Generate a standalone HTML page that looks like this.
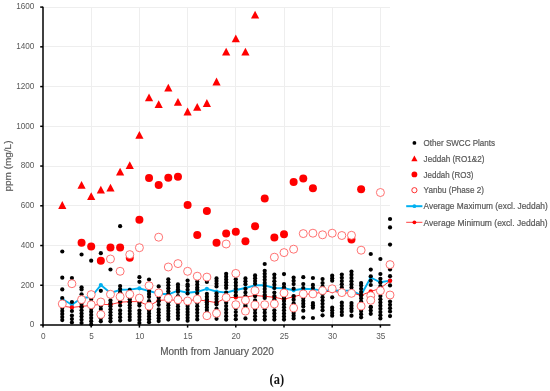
<!DOCTYPE html><html><head><meta charset="utf-8"><title>Chart</title><style>html,body{margin:0;padding:0;background:#fff;}svg{display:block;}text{font-family:"Liberation Sans",Arial,sans-serif;}</style></head><body>
<svg width="550" height="391" viewBox="0 0 550 391">
<rect width="550" height="391" fill="#fff"/>
<g stroke="#eeeeee" stroke-width="1"><line x1="43.0" y1="285.50" x2="390.0" y2="285.50"/><line x1="43.0" y1="245.50" x2="390.0" y2="245.50"/><line x1="43.0" y1="205.50" x2="390.0" y2="205.50"/><line x1="43.0" y1="166.50" x2="390.0" y2="166.50"/><line x1="43.0" y1="126.50" x2="390.0" y2="126.50"/><line x1="43.0" y1="86.50" x2="390.0" y2="86.50"/><line x1="43.0" y1="46.50" x2="390.0" y2="46.50"/><line x1="43.0" y1="7.50" x2="390.0" y2="7.50"/><line x1="91.50" y1="7.10" x2="91.50" y2="325.0"/><line x1="139.50" y1="7.10" x2="139.50" y2="325.0"/><line x1="187.50" y1="7.10" x2="187.50" y2="325.0"/><line x1="235.50" y1="7.10" x2="235.50" y2="325.0"/><line x1="284.50" y1="7.10" x2="284.50" y2="325.0"/><line x1="332.50" y1="7.10" x2="332.50" y2="325.0"/><line x1="380.50" y1="7.10" x2="380.50" y2="325.0"/></g>
<g fill="#595959" font-size="8.2"><text x="34.4" y="327.30" text-anchor="end">0</text><text x="34.4" y="287.56" text-anchor="end">200</text><text x="34.4" y="247.83" text-anchor="end">400</text><text x="34.4" y="208.09" text-anchor="end">600</text><text x="34.4" y="168.35" text-anchor="end">800</text><text x="34.4" y="128.61" text-anchor="end">1000</text><text x="34.4" y="88.88" text-anchor="end">1200</text><text x="34.4" y="49.14" text-anchor="end">1400</text><text x="34.4" y="9.40" text-anchor="end">1600</text><text x="43.30" y="339.0" text-anchor="middle">0</text><text x="91.50" y="339.0" text-anchor="middle">5</text><text x="139.70" y="339.0" text-anchor="middle">10</text><text x="187.90" y="339.0" text-anchor="middle">15</text><text x="236.10" y="339.0" text-anchor="middle">20</text><text x="284.30" y="339.0" text-anchor="middle">25</text><text x="332.50" y="339.0" text-anchor="middle">30</text><text x="380.70" y="339.0" text-anchor="middle">35</text></g>
<text transform="translate(11.2,166) rotate(-90)" text-anchor="middle" font-size="9.8" fill="#595959" stroke="#595959" stroke-width="0.2" textLength="51" lengthAdjust="spacingAndGlyphs">ppm (mg/L)</text>
<text x="160.2" y="355" font-size="10.6" fill="#595959" stroke="#595959" stroke-width="0.2" textLength="113.7" lengthAdjust="spacingAndGlyphs">Month from January 2020</text>
<text x="269.6" y="384.4" font-size="14" font-weight="bold" fill="#111" style="font-family:'Liberation Serif',serif" textLength="14.5" lengthAdjust="spacingAndGlyphs">(a)</text>
<polyline points="62.28,299.00 71.92,304.70 81.56,298.00 91.20,297.00 100.84,285.10 110.48,293.00 120.12,289.80 129.76,289.60 139.40,288.30 149.04,291.00 158.68,293.70 168.32,294.30 177.96,290.60 187.60,292.80 197.24,291.80 206.88,288.80 216.52,291.50 226.16,292.60 235.80,290.00 245.44,288.00 255.08,285.30 264.72,285.30 274.36,288.00 284.00,288.30 293.64,290.30 303.28,288.70 312.92,289.10 322.56,290.60 332.20,290.50 341.84,290.60 351.48,290.60 361.12,295.00 370.76,277.50 380.40,282.30 390.04,280.60" fill="none" stroke="#00b0f0" stroke-width="1.9" stroke-linejoin="round"/>
<g fill="#00b0f0"><circle cx="62.28" cy="299.00" r="2.1"/><circle cx="71.92" cy="304.70" r="2.1"/><circle cx="81.56" cy="298.00" r="2.1"/><circle cx="91.20" cy="297.00" r="2.1"/><circle cx="100.84" cy="285.10" r="2.1"/><circle cx="110.48" cy="293.00" r="2.1"/><circle cx="120.12" cy="289.80" r="2.1"/><circle cx="129.76" cy="289.60" r="2.1"/><circle cx="139.40" cy="288.30" r="2.1"/><circle cx="149.04" cy="291.00" r="2.1"/><circle cx="158.68" cy="293.70" r="2.1"/><circle cx="168.32" cy="294.30" r="2.1"/><circle cx="177.96" cy="290.60" r="2.1"/><circle cx="187.60" cy="292.80" r="2.1"/><circle cx="197.24" cy="291.80" r="2.1"/><circle cx="206.88" cy="288.80" r="2.1"/><circle cx="216.52" cy="291.50" r="2.1"/><circle cx="226.16" cy="292.60" r="2.1"/><circle cx="235.80" cy="290.00" r="2.1"/><circle cx="245.44" cy="288.00" r="2.1"/><circle cx="255.08" cy="285.30" r="2.1"/><circle cx="264.72" cy="285.30" r="2.1"/><circle cx="274.36" cy="288.00" r="2.1"/><circle cx="284.00" cy="288.30" r="2.1"/><circle cx="293.64" cy="290.30" r="2.1"/><circle cx="303.28" cy="288.70" r="2.1"/><circle cx="312.92" cy="289.10" r="2.1"/><circle cx="322.56" cy="290.60" r="2.1"/><circle cx="332.20" cy="290.50" r="2.1"/><circle cx="341.84" cy="290.60" r="2.1"/><circle cx="351.48" cy="290.60" r="2.1"/><circle cx="361.12" cy="295.00" r="2.1"/><circle cx="370.76" cy="277.50" r="2.1"/><circle cx="380.40" cy="282.30" r="2.1"/><circle cx="390.04" cy="280.60" r="2.1"/></g>
<polyline points="62.28,306.20 71.92,307.40 81.56,306.40 91.20,305.40 100.84,304.40 110.48,304.60 120.12,302.20 129.76,301.60 139.40,301.60 149.04,306.00 158.68,300.40 168.32,299.80 177.96,300.40 187.60,300.40 197.24,299.80 206.88,301.00 216.52,302.70 226.16,297.80 235.80,297.30 245.44,297.00 255.08,295.50 264.72,296.30 274.36,297.30 284.00,299.20 293.64,296.70 303.28,294.30 312.92,293.90 322.56,292.00 332.20,291.00 341.84,293.00 351.48,293.00 361.12,295.30 370.76,291.50 380.40,288.30 390.04,280.80" fill="none" stroke="#ff0000" stroke-width="1.0" stroke-linejoin="round" opacity="0.8"/>
<g fill="#ff0000"><circle cx="62.28" cy="306.20" r="2.2"/><circle cx="71.92" cy="307.40" r="2.2"/><circle cx="81.56" cy="306.40" r="2.2"/><circle cx="91.20" cy="305.40" r="2.2"/><circle cx="100.84" cy="304.40" r="2.2"/><circle cx="110.48" cy="304.60" r="2.2"/><circle cx="120.12" cy="302.20" r="2.2"/><circle cx="129.76" cy="301.60" r="2.2"/><circle cx="139.40" cy="301.60" r="2.2"/><circle cx="149.04" cy="306.00" r="2.2"/><circle cx="158.68" cy="300.40" r="2.2"/><circle cx="168.32" cy="299.80" r="2.2"/><circle cx="177.96" cy="300.40" r="2.2"/><circle cx="187.60" cy="300.40" r="2.2"/><circle cx="197.24" cy="299.80" r="2.2"/><circle cx="206.88" cy="301.00" r="2.2"/><circle cx="216.52" cy="302.70" r="2.2"/><circle cx="226.16" cy="297.80" r="2.2"/><circle cx="235.80" cy="297.30" r="2.2"/><circle cx="245.44" cy="297.00" r="2.2"/><circle cx="255.08" cy="295.50" r="2.2"/><circle cx="264.72" cy="296.30" r="2.2"/><circle cx="274.36" cy="297.30" r="2.2"/><circle cx="284.00" cy="299.20" r="2.2"/><circle cx="293.64" cy="296.70" r="2.2"/><circle cx="303.28" cy="294.30" r="2.2"/><circle cx="312.92" cy="293.90" r="2.2"/><circle cx="322.56" cy="292.00" r="2.2"/><circle cx="332.20" cy="291.00" r="2.2"/><circle cx="341.84" cy="293.00" r="2.2"/><circle cx="351.48" cy="293.00" r="2.2"/><circle cx="361.12" cy="295.30" r="2.2"/><circle cx="370.76" cy="291.50" r="2.2"/><circle cx="380.40" cy="288.30" r="2.2"/><circle cx="390.04" cy="280.80" r="2.2"/></g>
<g fill="#000"><circle cx="62.28" cy="251.50" r="2.1"/><circle cx="62.28" cy="277.70" r="2.1"/><circle cx="62.28" cy="289.40" r="2.1"/><circle cx="62.28" cy="298.00" r="2.1"/><circle cx="62.28" cy="307.80" r="2.1"/><circle cx="62.28" cy="310.88" r="2.1"/><circle cx="62.28" cy="313.95" r="2.1"/><circle cx="62.28" cy="317.03" r="2.1"/><circle cx="62.28" cy="320.10" r="2.1"/><circle cx="71.92" cy="278.00" r="2.1"/><circle cx="71.92" cy="302.00" r="2.1"/><circle cx="71.92" cy="311.00" r="2.1"/><circle cx="71.92" cy="315.60" r="2.1"/><circle cx="71.92" cy="319.05" r="2.1"/><circle cx="71.92" cy="322.50" r="2.1"/><circle cx="81.56" cy="254.50" r="2.1"/><circle cx="81.56" cy="287.30" r="2.1"/><circle cx="81.56" cy="289.40" r="2.1"/><circle cx="81.56" cy="294.30" r="2.1"/><circle cx="81.56" cy="297.49" r="2.1"/><circle cx="81.56" cy="300.68" r="2.1"/><circle cx="81.56" cy="303.87" r="2.1"/><circle cx="81.56" cy="307.06" r="2.1"/><circle cx="81.56" cy="310.24" r="2.1"/><circle cx="81.56" cy="313.43" r="2.1"/><circle cx="81.56" cy="316.62" r="2.1"/><circle cx="81.56" cy="319.81" r="2.1"/><circle cx="81.56" cy="323.00" r="2.1"/><circle cx="91.20" cy="260.70" r="2.1"/><circle cx="91.20" cy="299.00" r="2.1"/><circle cx="91.20" cy="302.18" r="2.1"/><circle cx="91.20" cy="305.35" r="2.1"/><circle cx="91.20" cy="308.52" r="2.1"/><circle cx="91.20" cy="311.70" r="2.1"/><circle cx="91.20" cy="314.88" r="2.1"/><circle cx="91.20" cy="318.05" r="2.1"/><circle cx="91.20" cy="321.22" r="2.1"/><circle cx="91.20" cy="324.40" r="2.1"/><circle cx="100.84" cy="253.20" r="2.1"/><circle cx="100.84" cy="290.80" r="2.1"/><circle cx="100.84" cy="306.00" r="2.1"/><circle cx="100.84" cy="309.06" r="2.1"/><circle cx="100.84" cy="312.12" r="2.1"/><circle cx="100.84" cy="315.18" r="2.1"/><circle cx="100.84" cy="318.24" r="2.1"/><circle cx="100.84" cy="321.30" r="2.1"/><circle cx="110.48" cy="269.50" r="2.1"/><circle cx="110.48" cy="300.40" r="2.1"/><circle cx="110.48" cy="303.39" r="2.1"/><circle cx="110.48" cy="306.37" r="2.1"/><circle cx="110.48" cy="309.36" r="2.1"/><circle cx="110.48" cy="312.34" r="2.1"/><circle cx="110.48" cy="315.33" r="2.1"/><circle cx="110.48" cy="318.31" r="2.1"/><circle cx="110.48" cy="321.30" r="2.1"/><circle cx="120.12" cy="226.20" r="2.1"/><circle cx="120.12" cy="286.00" r="2.1"/><circle cx="120.12" cy="289.10" r="2.1"/><circle cx="120.12" cy="292.20" r="2.1"/><circle cx="120.12" cy="301.60" r="2.1"/><circle cx="120.12" cy="305.60" r="2.1"/><circle cx="120.12" cy="310.40" r="2.1"/><circle cx="120.12" cy="313.80" r="2.1"/><circle cx="120.12" cy="317.20" r="2.1"/><circle cx="120.12" cy="320.60" r="2.1"/><circle cx="129.76" cy="290.00" r="2.1"/><circle cx="129.76" cy="299.20" r="2.1"/><circle cx="129.76" cy="302.17" r="2.1"/><circle cx="129.76" cy="305.14" r="2.1"/><circle cx="129.76" cy="308.11" r="2.1"/><circle cx="129.76" cy="311.09" r="2.1"/><circle cx="129.76" cy="314.06" r="2.1"/><circle cx="129.76" cy="317.03" r="2.1"/><circle cx="129.76" cy="320.00" r="2.1"/><circle cx="139.40" cy="277.20" r="2.1"/><circle cx="139.40" cy="281.80" r="2.1"/><circle cx="139.40" cy="303.00" r="2.1"/><circle cx="139.40" cy="305.60" r="2.1"/><circle cx="139.40" cy="310.60" r="2.1"/><circle cx="139.40" cy="313.70" r="2.1"/><circle cx="139.40" cy="316.80" r="2.1"/><circle cx="139.40" cy="319.90" r="2.1"/><circle cx="139.40" cy="323.00" r="2.1"/><circle cx="149.04" cy="279.50" r="2.1"/><circle cx="149.04" cy="301.20" r="2.1"/><circle cx="149.04" cy="291.00" r="2.1"/><circle cx="149.04" cy="293.90" r="2.1"/><circle cx="149.04" cy="296.80" r="2.1"/><circle cx="149.04" cy="310.70" r="2.1"/><circle cx="149.04" cy="313.57" r="2.1"/><circle cx="149.04" cy="316.45" r="2.1"/><circle cx="149.04" cy="319.32" r="2.1"/><circle cx="149.04" cy="322.20" r="2.1"/><circle cx="158.68" cy="286.40" r="2.1"/><circle cx="158.68" cy="297.50" r="2.1"/><circle cx="158.68" cy="301.15" r="2.1"/><circle cx="158.68" cy="304.80" r="2.1"/><circle cx="158.68" cy="309.40" r="2.1"/><circle cx="158.68" cy="312.32" r="2.1"/><circle cx="158.68" cy="315.25" r="2.1"/><circle cx="158.68" cy="318.18" r="2.1"/><circle cx="158.68" cy="321.10" r="2.1"/><circle cx="168.32" cy="279.30" r="2.1"/><circle cx="168.32" cy="282.28" r="2.1"/><circle cx="168.32" cy="285.26" r="2.1"/><circle cx="168.32" cy="288.24" r="2.1"/><circle cx="168.32" cy="291.22" r="2.1"/><circle cx="168.32" cy="294.20" r="2.1"/><circle cx="168.32" cy="302.30" r="2.1"/><circle cx="168.32" cy="305.18" r="2.1"/><circle cx="168.32" cy="308.07" r="2.1"/><circle cx="168.32" cy="310.95" r="2.1"/><circle cx="168.32" cy="313.83" r="2.1"/><circle cx="168.32" cy="316.72" r="2.1"/><circle cx="168.32" cy="319.60" r="2.1"/><circle cx="177.96" cy="284.40" r="2.1"/><circle cx="177.96" cy="287.00" r="2.1"/><circle cx="177.96" cy="289.60" r="2.1"/><circle cx="177.96" cy="291.80" r="2.1"/><circle cx="177.96" cy="296.00" r="2.1"/><circle cx="177.96" cy="303.50" r="2.1"/><circle cx="177.96" cy="306.56" r="2.1"/><circle cx="177.96" cy="309.62" r="2.1"/><circle cx="177.96" cy="312.68" r="2.1"/><circle cx="177.96" cy="315.74" r="2.1"/><circle cx="177.96" cy="318.80" r="2.1"/><circle cx="187.60" cy="280.50" r="2.1"/><circle cx="187.60" cy="284.40" r="2.1"/><circle cx="187.60" cy="286.20" r="2.1"/><circle cx="187.60" cy="289.85" r="2.1"/><circle cx="187.60" cy="293.50" r="2.1"/><circle cx="187.60" cy="306.00" r="2.1"/><circle cx="187.60" cy="308.94" r="2.1"/><circle cx="187.60" cy="311.88" r="2.1"/><circle cx="187.60" cy="314.82" r="2.1"/><circle cx="187.60" cy="317.76" r="2.1"/><circle cx="187.60" cy="320.70" r="2.1"/><circle cx="197.24" cy="281.50" r="2.1"/><circle cx="197.24" cy="284.55" r="2.1"/><circle cx="197.24" cy="287.60" r="2.1"/><circle cx="197.24" cy="289.50" r="2.1"/><circle cx="197.24" cy="293.10" r="2.1"/><circle cx="197.24" cy="302.90" r="2.1"/><circle cx="197.24" cy="306.20" r="2.1"/><circle cx="197.24" cy="309.50" r="2.1"/><circle cx="197.24" cy="312.80" r="2.1"/><circle cx="197.24" cy="316.10" r="2.1"/><circle cx="197.24" cy="319.40" r="2.1"/><circle cx="206.88" cy="281.90" r="2.1"/><circle cx="206.88" cy="293.80" r="2.1"/><circle cx="206.88" cy="296.63" r="2.1"/><circle cx="206.88" cy="299.47" r="2.1"/><circle cx="206.88" cy="302.30" r="2.1"/><circle cx="206.88" cy="304.40" r="2.1"/><circle cx="206.88" cy="307.17" r="2.1"/><circle cx="206.88" cy="309.93" r="2.1"/><circle cx="206.88" cy="312.70" r="2.1"/><circle cx="216.52" cy="318.80" r="2.1"/><circle cx="216.52" cy="278.40" r="2.1"/><circle cx="216.52" cy="281.10" r="2.1"/><circle cx="216.52" cy="283.80" r="2.1"/><circle cx="216.52" cy="286.50" r="2.1"/><circle cx="216.52" cy="293.40" r="2.1"/><circle cx="216.52" cy="296.23" r="2.1"/><circle cx="216.52" cy="299.07" r="2.1"/><circle cx="216.52" cy="301.90" r="2.1"/><circle cx="216.52" cy="304.60" r="2.1"/><circle cx="216.52" cy="308.80" r="2.1"/><circle cx="226.16" cy="292.60" r="2.1"/><circle cx="226.16" cy="273.80" r="2.1"/><circle cx="226.16" cy="276.64" r="2.1"/><circle cx="226.16" cy="279.48" r="2.1"/><circle cx="226.16" cy="282.32" r="2.1"/><circle cx="226.16" cy="285.16" r="2.1"/><circle cx="226.16" cy="288.00" r="2.1"/><circle cx="226.16" cy="302.70" r="2.1"/><circle cx="226.16" cy="306.08" r="2.1"/><circle cx="226.16" cy="309.46" r="2.1"/><circle cx="226.16" cy="312.84" r="2.1"/><circle cx="226.16" cy="316.22" r="2.1"/><circle cx="226.16" cy="319.60" r="2.1"/><circle cx="235.80" cy="279.20" r="2.1"/><circle cx="235.80" cy="282.42" r="2.1"/><circle cx="235.80" cy="285.64" r="2.1"/><circle cx="235.80" cy="288.86" r="2.1"/><circle cx="235.80" cy="292.08" r="2.1"/><circle cx="235.80" cy="295.30" r="2.1"/><circle cx="235.80" cy="308.40" r="2.1"/><circle cx="235.80" cy="312.00" r="2.1"/><circle cx="235.80" cy="315.60" r="2.1"/><circle cx="235.80" cy="319.20" r="2.1"/><circle cx="245.44" cy="318.40" r="2.1"/><circle cx="245.44" cy="278.40" r="2.1"/><circle cx="245.44" cy="281.30" r="2.1"/><circle cx="245.44" cy="284.20" r="2.1"/><circle cx="245.44" cy="288.80" r="2.1"/><circle cx="245.44" cy="292.45" r="2.1"/><circle cx="245.44" cy="296.10" r="2.1"/><circle cx="245.44" cy="305.00" r="2.1"/><circle cx="245.44" cy="306.50" r="2.1"/><circle cx="255.08" cy="275.40" r="2.1"/><circle cx="255.08" cy="278.20" r="2.1"/><circle cx="255.08" cy="281.00" r="2.1"/><circle cx="255.08" cy="283.80" r="2.1"/><circle cx="255.08" cy="296.10" r="2.1"/><circle cx="255.08" cy="300.40" r="2.1"/><circle cx="255.08" cy="309.60" r="2.1"/><circle cx="255.08" cy="312.93" r="2.1"/><circle cx="255.08" cy="316.27" r="2.1"/><circle cx="255.08" cy="319.60" r="2.1"/><circle cx="264.72" cy="264.00" r="2.1"/><circle cx="264.72" cy="270.80" r="2.1"/><circle cx="264.72" cy="273.82" r="2.1"/><circle cx="264.72" cy="276.84" r="2.1"/><circle cx="264.72" cy="279.87" r="2.1"/><circle cx="264.72" cy="282.89" r="2.1"/><circle cx="264.72" cy="285.91" r="2.1"/><circle cx="264.72" cy="288.93" r="2.1"/><circle cx="264.72" cy="291.96" r="2.1"/><circle cx="264.72" cy="294.98" r="2.1"/><circle cx="264.72" cy="298.00" r="2.1"/><circle cx="264.72" cy="309.20" r="2.1"/><circle cx="264.72" cy="312.67" r="2.1"/><circle cx="264.72" cy="316.13" r="2.1"/><circle cx="264.72" cy="319.60" r="2.1"/><circle cx="274.36" cy="274.60" r="2.1"/><circle cx="274.36" cy="277.95" r="2.1"/><circle cx="274.36" cy="281.30" r="2.1"/><circle cx="274.36" cy="284.65" r="2.1"/><circle cx="274.36" cy="288.00" r="2.1"/><circle cx="274.36" cy="292.60" r="2.1"/><circle cx="274.36" cy="296.10" r="2.1"/><circle cx="274.36" cy="299.60" r="2.1"/><circle cx="274.36" cy="310.30" r="2.1"/><circle cx="274.36" cy="313.40" r="2.1"/><circle cx="274.36" cy="316.50" r="2.1"/><circle cx="274.36" cy="319.60" r="2.1"/><circle cx="284.00" cy="274.10" r="2.1"/><circle cx="284.00" cy="284.10" r="2.1"/><circle cx="284.00" cy="287.20" r="2.1"/><circle cx="284.00" cy="298.00" r="2.1"/><circle cx="284.00" cy="301.09" r="2.1"/><circle cx="284.00" cy="304.17" r="2.1"/><circle cx="284.00" cy="307.26" r="2.1"/><circle cx="284.00" cy="310.34" r="2.1"/><circle cx="284.00" cy="313.43" r="2.1"/><circle cx="284.00" cy="316.51" r="2.1"/><circle cx="284.00" cy="319.60" r="2.1"/><circle cx="293.64" cy="288.70" r="2.1"/><circle cx="293.64" cy="277.60" r="2.1"/><circle cx="293.64" cy="280.85" r="2.1"/><circle cx="293.64" cy="284.10" r="2.1"/><circle cx="293.64" cy="296.00" r="2.1"/><circle cx="293.64" cy="299.70" r="2.1"/><circle cx="293.64" cy="303.40" r="2.1"/><circle cx="293.64" cy="313.00" r="2.1"/><circle cx="293.64" cy="315.70" r="2.1"/><circle cx="293.64" cy="318.40" r="2.1"/><circle cx="303.28" cy="277.20" r="2.1"/><circle cx="303.28" cy="310.70" r="2.1"/><circle cx="303.28" cy="317.60" r="2.1"/><circle cx="303.28" cy="284.10" r="2.1"/><circle cx="303.28" cy="288.00" r="2.1"/><circle cx="303.28" cy="298.00" r="2.1"/><circle cx="303.28" cy="300.83" r="2.1"/><circle cx="303.28" cy="303.67" r="2.1"/><circle cx="303.28" cy="306.50" r="2.1"/><circle cx="312.92" cy="278.00" r="2.1"/><circle cx="312.92" cy="318.00" r="2.1"/><circle cx="312.92" cy="284.90" r="2.1"/><circle cx="312.92" cy="288.00" r="2.1"/><circle cx="312.92" cy="303.00" r="2.1"/><circle cx="312.92" cy="305.35" r="2.1"/><circle cx="312.92" cy="307.70" r="2.1"/><circle cx="322.56" cy="286.40" r="2.1"/><circle cx="322.56" cy="315.30" r="2.1"/><circle cx="322.56" cy="279.10" r="2.1"/><circle cx="322.56" cy="283.00" r="2.1"/><circle cx="322.56" cy="294.00" r="2.1"/><circle cx="322.56" cy="297.26" r="2.1"/><circle cx="322.56" cy="300.52" r="2.1"/><circle cx="322.56" cy="303.78" r="2.1"/><circle cx="322.56" cy="307.04" r="2.1"/><circle cx="322.56" cy="310.30" r="2.1"/><circle cx="332.20" cy="297.30" r="2.1"/><circle cx="332.20" cy="275.70" r="2.1"/><circle cx="332.20" cy="278.20" r="2.1"/><circle cx="332.20" cy="280.70" r="2.1"/><circle cx="332.20" cy="307.70" r="2.1"/><circle cx="332.20" cy="310.37" r="2.1"/><circle cx="332.20" cy="313.03" r="2.1"/><circle cx="332.20" cy="315.70" r="2.1"/><circle cx="341.84" cy="274.50" r="2.1"/><circle cx="341.84" cy="277.77" r="2.1"/><circle cx="341.84" cy="281.05" r="2.1"/><circle cx="341.84" cy="284.33" r="2.1"/><circle cx="341.84" cy="287.60" r="2.1"/><circle cx="341.84" cy="302.70" r="2.1"/><circle cx="341.84" cy="305.77" r="2.1"/><circle cx="341.84" cy="308.85" r="2.1"/><circle cx="341.84" cy="311.93" r="2.1"/><circle cx="341.84" cy="315.00" r="2.1"/><circle cx="351.48" cy="315.70" r="2.1"/><circle cx="351.48" cy="271.50" r="2.1"/><circle cx="351.48" cy="274.72" r="2.1"/><circle cx="351.48" cy="277.94" r="2.1"/><circle cx="351.48" cy="281.16" r="2.1"/><circle cx="351.48" cy="284.38" r="2.1"/><circle cx="351.48" cy="287.60" r="2.1"/><circle cx="351.48" cy="303.00" r="2.1"/><circle cx="351.48" cy="305.70" r="2.1"/><circle cx="351.48" cy="308.40" r="2.1"/><circle cx="351.48" cy="311.10" r="2.1"/><circle cx="361.12" cy="283.10" r="2.1"/><circle cx="361.12" cy="285.40" r="2.1"/><circle cx="361.12" cy="288.80" r="2.1"/><circle cx="361.12" cy="291.98" r="2.1"/><circle cx="361.12" cy="295.15" r="2.1"/><circle cx="361.12" cy="298.32" r="2.1"/><circle cx="361.12" cy="301.50" r="2.1"/><circle cx="361.12" cy="311.10" r="2.1"/><circle cx="361.12" cy="314.20" r="2.1"/><circle cx="361.12" cy="317.30" r="2.1"/><circle cx="370.76" cy="254.00" r="2.1"/><circle cx="370.76" cy="269.60" r="2.1"/><circle cx="370.76" cy="276.30" r="2.1"/><circle cx="370.76" cy="306.90" r="2.1"/><circle cx="370.76" cy="280.80" r="2.1"/><circle cx="370.76" cy="285.00" r="2.1"/><circle cx="370.76" cy="307.30" r="2.1"/><circle cx="370.76" cy="310.55" r="2.1"/><circle cx="370.76" cy="313.80" r="2.1"/><circle cx="380.40" cy="259.00" r="2.1"/><circle cx="380.40" cy="274.00" r="2.1"/><circle cx="380.40" cy="278.80" r="2.1"/><circle cx="380.40" cy="282.45" r="2.1"/><circle cx="380.40" cy="286.10" r="2.1"/><circle cx="380.40" cy="296.10" r="2.1"/><circle cx="380.40" cy="299.29" r="2.1"/><circle cx="380.40" cy="302.47" r="2.1"/><circle cx="380.40" cy="305.66" r="2.1"/><circle cx="380.40" cy="308.84" r="2.1"/><circle cx="380.40" cy="312.03" r="2.1"/><circle cx="380.40" cy="315.21" r="2.1"/><circle cx="380.40" cy="318.40" r="2.1"/><circle cx="390.04" cy="219.00" r="2.1"/><circle cx="390.04" cy="227.40" r="2.1"/><circle cx="390.04" cy="244.60" r="2.1"/><circle cx="390.04" cy="269.50" r="2.1"/><circle cx="390.04" cy="276.20" r="2.1"/><circle cx="390.04" cy="285.40" r="2.1"/><circle cx="390.04" cy="316.10" r="2.1"/><circle cx="390.04" cy="301.50" r="2.1"/><circle cx="390.04" cy="304.83" r="2.1"/><circle cx="390.04" cy="308.17" r="2.1"/><circle cx="390.04" cy="311.50" r="2.1"/></g>
<g fill="#ff0000"><path d="M62.28,201.10L66.38,208.90L58.18,208.90Z"/><path d="M81.56,181.00L85.66,188.80L77.46,188.80Z"/><path d="M91.20,192.30L95.30,200.10L87.10,200.10Z"/><path d="M100.84,185.80L104.94,193.60L96.74,193.60Z"/><path d="M110.48,183.70L114.58,191.50L106.38,191.50Z"/><path d="M120.12,167.70L124.22,175.50L116.02,175.50Z"/><path d="M129.76,161.30L133.86,169.10L125.66,169.10Z"/><path d="M139.40,130.90L143.50,138.70L135.30,138.70Z"/><path d="M149.04,93.50L153.14,101.30L144.94,101.30Z"/><path d="M158.68,100.20L162.78,108.00L154.58,108.00Z"/><path d="M168.32,83.70L172.42,91.50L164.22,91.50Z"/><path d="M177.96,97.90L182.06,105.70L173.86,105.70Z"/><path d="M187.60,107.60L191.70,115.40L183.50,115.40Z"/><path d="M197.24,103.00L201.34,110.80L193.14,110.80Z"/><path d="M206.88,99.10L210.98,106.90L202.78,106.90Z"/><path d="M216.52,77.60L220.62,85.40L212.42,85.40Z"/><path d="M226.16,47.80L230.26,55.60L222.06,55.60Z"/><path d="M235.80,34.50L239.90,42.30L231.70,42.30Z"/><path d="M245.44,47.80L249.54,55.60L241.34,55.60Z"/><path d="M255.08,10.80L259.18,18.60L250.98,18.60Z"/></g>
<g fill="#ff0000"><circle cx="81.56" cy="242.70" r="4.0"/><circle cx="91.20" cy="246.50" r="4.0"/><circle cx="100.84" cy="260.80" r="4.0"/><circle cx="110.48" cy="247.60" r="4.0"/><circle cx="120.12" cy="247.50" r="4.0"/><circle cx="129.76" cy="257.80" r="4.0"/><circle cx="139.40" cy="219.80" r="4.0"/><circle cx="149.04" cy="178.10" r="4.0"/><circle cx="158.68" cy="185.00" r="4.0"/><circle cx="168.32" cy="177.80" r="4.0"/><circle cx="177.96" cy="176.80" r="4.0"/><circle cx="187.60" cy="205.00" r="4.0"/><circle cx="197.24" cy="234.90" r="4.0"/><circle cx="206.88" cy="211.10" r="4.0"/><circle cx="216.52" cy="242.80" r="4.0"/><circle cx="226.16" cy="233.60" r="4.0"/><circle cx="235.80" cy="231.80" r="4.0"/><circle cx="245.44" cy="241.20" r="4.0"/><circle cx="255.08" cy="226.30" r="4.0"/><circle cx="264.72" cy="198.50" r="4.0"/><circle cx="274.36" cy="237.50" r="4.0"/><circle cx="284.00" cy="234.30" r="4.0"/><circle cx="293.64" cy="181.90" r="4.0"/><circle cx="303.28" cy="178.40" r="4.0"/><circle cx="312.92" cy="188.30" r="4.0"/><circle cx="351.48" cy="239.50" r="4.0"/><circle cx="361.12" cy="189.30" r="4.0"/></g>
<g fill="#fff" stroke="#ff5a5a" stroke-width="0.85"><circle cx="62.28" cy="303.90" r="4.0"/><circle cx="71.92" cy="283.70" r="4.0"/><circle cx="81.56" cy="299.60" r="4.0"/><circle cx="91.20" cy="294.60" r="4.0"/><circle cx="91.20" cy="304.70" r="4.0"/><circle cx="100.84" cy="302.00" r="4.0"/><circle cx="100.84" cy="314.50" r="4.0"/><circle cx="110.48" cy="259.00" r="4.0"/><circle cx="110.48" cy="294.30" r="4.0"/><circle cx="120.12" cy="271.30" r="4.0"/><circle cx="120.12" cy="296.70" r="4.0"/><circle cx="129.76" cy="254.60" r="4.0"/><circle cx="129.76" cy="294.30" r="4.0"/><circle cx="139.40" cy="247.70" r="4.0"/><circle cx="139.40" cy="298.10" r="4.0"/><circle cx="149.04" cy="285.70" r="4.0"/><circle cx="149.04" cy="306.10" r="4.0"/><circle cx="158.68" cy="237.20" r="4.0"/><circle cx="158.68" cy="292.90" r="4.0"/><circle cx="168.32" cy="267.00" r="4.0"/><circle cx="168.32" cy="298.40" r="4.0"/><circle cx="177.96" cy="263.60" r="4.0"/><circle cx="177.96" cy="299.80" r="4.0"/><circle cx="187.60" cy="271.30" r="4.0"/><circle cx="187.60" cy="301.00" r="4.0"/><circle cx="197.24" cy="276.20" r="4.0"/><circle cx="197.24" cy="299.20" r="4.0"/><circle cx="206.88" cy="277.10" r="4.0"/><circle cx="206.88" cy="315.70" r="4.0"/><circle cx="216.52" cy="313.30" r="4.0"/><circle cx="226.16" cy="244.00" r="4.0"/><circle cx="226.16" cy="297.60" r="4.0"/><circle cx="235.80" cy="273.40" r="4.0"/><circle cx="235.80" cy="304.70" r="4.0"/><circle cx="245.44" cy="300.20" r="4.0"/><circle cx="245.44" cy="311.10" r="4.0"/><circle cx="255.08" cy="290.70" r="4.0"/><circle cx="255.08" cy="305.00" r="4.0"/><circle cx="264.72" cy="304.70" r="4.0"/><circle cx="274.36" cy="257.20" r="4.0"/><circle cx="274.36" cy="303.90" r="4.0"/><circle cx="284.00" cy="252.60" r="4.0"/><circle cx="284.00" cy="293.00" r="4.0"/><circle cx="293.64" cy="249.20" r="4.0"/><circle cx="293.64" cy="308.00" r="4.0"/><circle cx="303.28" cy="233.60" r="4.0"/><circle cx="303.28" cy="293.90" r="4.0"/><circle cx="312.92" cy="233.20" r="4.0"/><circle cx="312.92" cy="293.90" r="4.0"/><circle cx="322.56" cy="234.80" r="4.0"/><circle cx="322.56" cy="290.60" r="4.0"/><circle cx="332.20" cy="233.20" r="4.0"/><circle cx="332.20" cy="288.80" r="4.0"/><circle cx="341.84" cy="235.50" r="4.0"/><circle cx="341.84" cy="292.60" r="4.0"/><circle cx="351.48" cy="235.30" r="4.0"/><circle cx="351.48" cy="293.30" r="4.0"/><circle cx="361.12" cy="250.20" r="4.0"/><circle cx="361.12" cy="306.10" r="4.0"/><circle cx="370.76" cy="295.70" r="4.0"/><circle cx="370.76" cy="300.30" r="4.0"/><circle cx="380.40" cy="192.50" r="4.0"/><circle cx="380.40" cy="290.70" r="4.0"/><circle cx="390.04" cy="264.60" r="4.0"/><circle cx="390.04" cy="295.00" r="4.0"/></g>
<g stroke="#000" stroke-width="1.5" fill="none"><line x1="43.00" y1="6.80" x2="43.00" y2="325.75"/><line x1="40.2" y1="325.00" x2="390.44" y2="325.00"/><line x1="40.2" y1="285.26" x2="43.00" y2="285.26"/><line x1="40.2" y1="245.53" x2="43.00" y2="245.53"/><line x1="40.2" y1="205.79" x2="43.00" y2="205.79"/><line x1="40.2" y1="166.05" x2="43.00" y2="166.05"/><line x1="40.2" y1="126.31" x2="43.00" y2="126.31"/><line x1="40.2" y1="86.58" x2="43.00" y2="86.58"/><line x1="40.2" y1="46.84" x2="43.00" y2="46.84"/><line x1="40.2" y1="7.10" x2="43.00" y2="7.10"/><line x1="43.00" y1="325.00" x2="43.00" y2="327.6"/><line x1="91.20" y1="325.00" x2="91.20" y2="327.6"/><line x1="139.40" y1="325.00" x2="139.40" y2="327.6"/><line x1="187.60" y1="325.00" x2="187.60" y2="327.6"/><line x1="235.80" y1="325.00" x2="235.80" y2="327.6"/><line x1="284.00" y1="325.00" x2="284.00" y2="327.6"/><line x1="332.20" y1="325.00" x2="332.20" y2="327.6"/><line x1="380.40" y1="325.00" x2="380.40" y2="327.6"/></g>
<circle cx="414.4" cy="142.9" r="1.9" fill="#000"/><path d="M414.4,155.50L417.50,161.30L411.30,161.30Z" fill="#ff0000"/><circle cx="414.4" cy="174.4" r="2.9" fill="#ff0000"/><circle cx="414.4" cy="190.2" r="2.6" fill="#fff" stroke="#ff0000" stroke-width="0.8"/><line x1="406.2" y1="206.2" x2="422.4" y2="206.2" stroke="#00b0f0" stroke-width="2"/><circle cx="414.4" cy="206.2" r="1.9" fill="#00b0f0"/><line x1="406.2" y1="222.3" x2="422.4" y2="222.3" stroke="#ff0000" stroke-width="1.0" opacity="0.75"/><circle cx="414.4" cy="222.3" r="1.9" fill="#ff0000"/><text x="423.6" y="146.10" font-size="9.3" fill="#595959" stroke="#595959" stroke-width="0.22" textLength="71.4" lengthAdjust="spacingAndGlyphs">Other SWCC Plants</text><text x="423.6" y="161.90" font-size="9.3" fill="#595959" stroke="#595959" stroke-width="0.22" textLength="60.8" lengthAdjust="spacingAndGlyphs">Jeddah (RO1&amp;2)</text><text x="423.6" y="177.60" font-size="9.3" fill="#595959" stroke="#595959" stroke-width="0.22" textLength="49.9" lengthAdjust="spacingAndGlyphs">Jeddah (RO3)</text><text x="423.6" y="193.40" font-size="9.3" fill="#595959" stroke="#595959" stroke-width="0.22" textLength="60.3" lengthAdjust="spacingAndGlyphs">Yanbu (Phase 2)</text><text x="423.6" y="209.40" font-size="9.3" fill="#595959" stroke="#595959" stroke-width="0.22" textLength="124.1" lengthAdjust="spacingAndGlyphs">Average Maximum (excl. Jeddah)</text><text x="423.6" y="225.50" font-size="9.3" fill="#595959" stroke="#595959" stroke-width="0.22" textLength="124.1" lengthAdjust="spacingAndGlyphs">Average Minimum (excl. Jeddah)</text>
</svg></body></html>
